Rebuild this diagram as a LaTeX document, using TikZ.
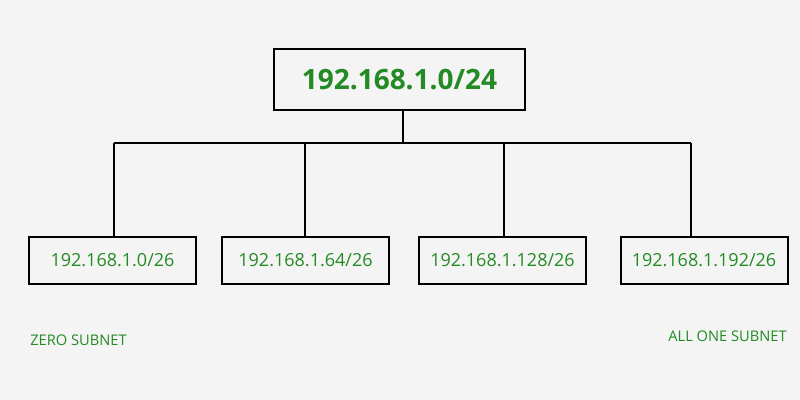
\documentclass[tikz,border=0pt]{standalone}
\usepackage{fontspec}
\setmainfont{Open Sans}
\definecolor{netgreen}{RGB}{36,138,36}
\definecolor{bggray}{RGB}{244,244,244}
\tikzset{
  netbox/.style={draw=black, line width=1.5pt, fill=bggray, minimum width=167*0.75pt, minimum height=47*0.75pt, inner sep=0pt, text=netgreen, font=\fontsize{13.5}{16}\selectfont},
  mainbox/.style={netbox, minimum width=251*0.75pt, minimum height=61*0.75pt, font=\fontsize{21}{25}\selectfont\bfseries},
  link/.style={line width=1.5pt, black},
  tag/.style={text=netgreen, font=\fontsize{11}{13}\selectfont, inner sep=0pt}
}
\begin{document}
\begin{tikzpicture}[x=0.75pt,y=0.75pt]
\fill [bggray] (0,0) rectangle (800,400);
\useasboundingbox (0,0) rectangle (800,400);

%Network
\node [mainbox] (net) at (399.5,320.5) {192.168.1.0/24};

%Subnets
\node [netbox] (s1) at (112.5,139.5) {192.168.1.0/26};
\node [netbox] (s2) at (305.5,139.5) {192.168.1.64/26};
\node [netbox] (s3) at (502.5,139.5) {192.168.1.128/26};
\node [netbox] (s4) at (704,139.5) {192.168.1.192/26};

%Bus
\coordinate (top) at (403,257);
\coordinate (j1) at (114,257);
\coordinate (j2) at (305,257);
\coordinate (j3) at (504,257);
\coordinate (j4) at (691,257);
\draw [link] (top |- net.south) -- (top);
\draw [link] (j1) -- (j4);
\draw [link] (j1) -- (j1 |- s1.north);
\draw [link] (j2) -- (j2 |- s2.north);
\draw [link] (j3) -- (j3 |- s3.north);
\draw [link] (j4) -- (j4 |- s4.north);

%Labels
\node [tag, anchor=west] (zero) at (30,60) {ZERO SUBNET};
\node [tag, anchor=east] (allone) at (787,64) {ALL ONE SUBNET};
\end{tikzpicture}
\end{document}
